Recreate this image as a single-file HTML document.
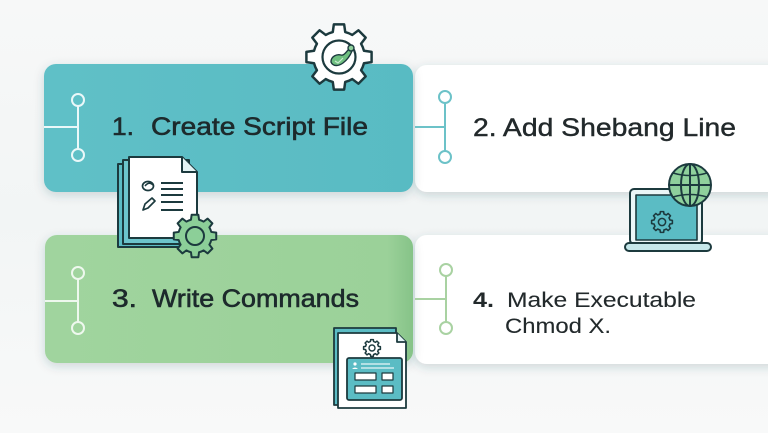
<!DOCTYPE html>
<html><head><meta charset="utf-8">
<style>
html,body{margin:0;padding:0;background:#f5f7f7;}
svg{display:block;}
text{font-family:"Liberation Sans",Arial,sans-serif;}
</style></head>
<body>
<svg width="768" height="433" viewBox="0 0 768 433" xmlns="http://www.w3.org/2000/svg">
<defs>
  <filter id="sh" x="-10%" y="-20%" width="120%" height="150%">
    <feDropShadow dx="0" dy="3" stdDeviation="5" flood-color="#1f4f55" flood-opacity="0.2"/>
  </filter>
  <linearGradient id="bg" x1="0" y1="0" x2="0" y2="1">
    <stop offset="0" stop-color="#f7f8f8"/>
    <stop offset="0.5" stop-color="#f2f5f5"/>
    <stop offset="1" stop-color="#f8f9f9"/>
  </linearGradient>
  <linearGradient id="teal" x1="0" y1="0" x2="1" y2="0">
    <stop offset="0" stop-color="#5fc0c7"/>
    <stop offset="1" stop-color="#59bbc3"/>
  </linearGradient>
  <linearGradient id="green" x1="0" y1="0" x2="1" y2="0">
    <stop offset="0" stop-color="#a0d49e"/>
    <stop offset="0.93" stop-color="#9bd199"/>
    <stop offset="1" stop-color="#86c388"/>
  </linearGradient>
  <path id="gear" d="M-0.1887 -0.7568 L-0.1564 -0.9877 L0.1564 -0.9877 L0.1887 -0.7568 A0.78 0.78 0 0 1 0.4017 -0.6686 L0.5878 -0.8090 L0.8090 -0.5878 L0.6686 -0.4017 A0.78 0.78 0 0 1 0.7568 -0.1887 L0.9877 -0.1564 L0.9877 0.1564 L0.7568 0.1887 A0.78 0.78 0 0 1 0.6686 0.4017 L0.8090 0.5878 L0.5878 0.8090 L0.4017 0.6686 A0.78 0.78 0 0 1 0.1887 0.7568 L0.1564 0.9877 L-0.1564 0.9877 L-0.1887 0.7568 A0.78 0.78 0 0 1 -0.4017 0.6686 L-0.5878 0.8090 L-0.8090 0.5878 L-0.6686 0.4017 A0.78 0.78 0 0 1 -0.7568 0.1887 L-0.9877 0.1564 L-0.9877 -0.1564 L-0.7568 -0.1887 A0.78 0.78 0 0 1 -0.6686 -0.4017 L-0.8090 -0.5878 L-0.5878 -0.8090 L-0.4017 -0.6686 A0.78 0.78 0 0 1 -0.1887 -0.7568 Z" stroke-linejoin="round"/>
</defs>

<rect x="0" y="0" width="768" height="433" fill="url(#bg)"/>

<!-- Cards -->
<rect x="415" y="65" width="370" height="127" rx="12" fill="#ffffff" filter="url(#sh)"/>
<rect x="415" y="235" width="370" height="129" rx="12" fill="#ffffff" filter="url(#sh)"/>
<rect x="44" y="64" width="369" height="128" rx="12" fill="url(#teal)" filter="url(#sh)"/>
<rect x="45" y="235" width="368" height="128" rx="12" fill="url(#green)" filter="url(#sh)"/>

<!-- Connectors card 1 -->
<g stroke="#eaf8f9" stroke-width="2" fill="none">
  <line x1="44" y1="127" x2="78" y2="127"/>
  <line x1="78" y1="106" x2="78" y2="149"/>
  <circle cx="78" cy="100" r="6"/>
  <circle cx="78" cy="155" r="6"/>
</g>
<!-- Connectors card 3 -->
<g stroke="#eef8ee" stroke-width="2" fill="none">
  <line x1="45" y1="301" x2="78" y2="301"/>
  <line x1="78" y1="279" x2="78" y2="322"/>
  <circle cx="78" cy="273" r="6"/>
  <circle cx="78" cy="328" r="6"/>
</g>
<!-- Connectors card 2 -->
<g stroke="#6cc2c8" stroke-width="2" fill="#fff">
  <line x1="415" y1="127" x2="445" y2="127"/>
  <line x1="445" y1="103" x2="445" y2="151"/>
  <circle cx="445" cy="97" r="6"/>
  <circle cx="445" cy="157" r="6"/>
</g>
<!-- Connectors card 4 -->
<g stroke="#a9d2a2" stroke-width="2" fill="#fff">
  <line x1="415" y1="299" x2="446" y2="299"/>
  <line x1="446" y1="276" x2="446" y2="322"/>
  <circle cx="446" cy="270" r="6"/>
  <circle cx="446" cy="328" r="6"/>
</g>

<!-- Texts -->
<g fill="#1d2a2c" stroke="#1d2a2c">
  <text x="112" y="135" font-size="25" stroke-width="0.6" textLength="22" lengthAdjust="spacingAndGlyphs">1.</text>
  <text x="151" y="135" font-size="25" stroke-width="0.6" textLength="217" lengthAdjust="spacingAndGlyphs">Create Script File</text>
  <text x="112" y="307" font-size="25" stroke-width="0.6" textLength="25" lengthAdjust="spacingAndGlyphs">3.</text>
  <text x="152" y="307" font-size="25" stroke-width="0.6" textLength="207" lengthAdjust="spacingAndGlyphs">Write Commands</text>
</g>
<g fill="#22292b" stroke="#22292b">
  <text x="473" y="136" font-size="25" stroke-width="0.4" textLength="263" lengthAdjust="spacingAndGlyphs">2. Add Shebang Line</text>
  <text x="473" y="307" font-size="21" font-weight="bold" stroke-width="0" textLength="21" lengthAdjust="spacingAndGlyphs">4.</text>
  <text x="507" y="307" font-size="21" stroke-width="0.1" textLength="189" lengthAdjust="spacingAndGlyphs">Make Executable</text>
  <text x="505" y="333" font-size="21" stroke-width="0.1" textLength="106" lengthAdjust="spacingAndGlyphs">Chmod X.</text>
</g>

<!-- Top gear icon -->
<use href="#gear" transform="translate(339,57) scale(33)" fill="#ffffff" stroke="#1c3a3e" stroke-width="0.075"/>
<circle cx="339" cy="57" r="16.5" fill="#ffffff" stroke="#1c3a3e" stroke-width="2.2"/>
<g stroke="#1c3a3e" stroke-width="1.4" stroke-linejoin="round">
  <path d="M331 62 C331 56 337 54 341 55 C344 56 346 52 349 49 L352 51 C350 56 347 60 343 63 C339 66 333 67 331 62 Z" fill="#6fbf80"/>
  <circle cx="351" cy="48" r="3" fill="#8fd09c"/>
  <path d="M335 61 L338 63 L343 58" fill="none" stroke="#c8ebcf" stroke-width="1.2"/>
</g>

<!-- Document icon 1 -->
<g stroke="#1c3a3e" stroke-width="2" stroke-linejoin="round">
  <rect x="118" y="164" width="64" height="83" fill="#5bbcc4"/>
  <rect x="123" y="160" width="66" height="84" fill="#6cc5cc"/>
  <path d="M129 157 H182 L197 172 V238 H129 Z" fill="#ffffff"/>
  <path d="M182 157 V172 H197" fill="#e3f3f4"/>
  <ellipse cx="148" cy="186" rx="5.5" ry="4.5" fill="none" stroke-width="1.7"/>
  <path d="M145 186 Q149 181 153 185" fill="none" stroke-width="1.5"/>
  <path d="M143 210 L145 204 L152 198 L155 201 L148 208 Z" fill="none" stroke-width="1.7"/>
  <g stroke-width="2">
    <line x1="161" y1="183" x2="183" y2="183"/>
    <line x1="161" y1="189" x2="183" y2="189"/>
    <line x1="161" y1="195" x2="183" y2="195"/>
    <line x1="161" y1="202" x2="183" y2="202"/>
    <line x1="161" y1="210" x2="183" y2="210"/>
  </g>
</g>
<use href="#gear" transform="translate(195,236) scale(21.5)" fill="#8ccf98" stroke="#1c3a3e" stroke-width="0.093"/>
<circle cx="195" cy="236" r="9" fill="#8ccf98" stroke="#1c3a3e" stroke-width="2"/>

<!-- Laptop icon -->
<g stroke="#1c3a3e" stroke-linejoin="round">
  <rect x="630" y="189" width="72" height="55" rx="4" fill="#eaf6f7" stroke-width="2"/>
  <rect x="636" y="195" width="61" height="45" fill="#5bbcc4" stroke-width="1.6"/>
  <rect x="625" y="243" width="86" height="8" rx="4" fill="#c5e7ea" stroke-width="2"/>
</g>
<use href="#gear" transform="translate(662,222) scale(10.5)" fill="#5bbcc4" stroke="#1c3a3e" stroke-width="0.15"/>
<circle cx="662" cy="222" r="3.6" fill="#5bbcc4" stroke="#1c3a3e" stroke-width="1.5"/>
<g stroke="#1c3a3e" stroke-width="2" fill="none">
  <circle cx="690" cy="185" r="21" fill="#8fd09c"/>
  <ellipse cx="690" cy="185" rx="9" ry="21"/>
  <line x1="690" y1="164" x2="690" y2="206"/>
  <line x1="669" y1="185" x2="711" y2="185"/>
  <path d="M673 173 Q690 178 707 173" stroke-width="1.6"/>
  <path d="M673 197 Q690 192 707 197" stroke-width="1.6"/>
</g>

<!-- Document icon 2 -->
<g stroke="#1c3a3e" stroke-width="1.8" stroke-linejoin="round">
  <rect x="334" y="328" width="62" height="77" fill="#5bbcc4"/>
  <path d="M338 333 H397 L406 342 V408 H338 Z" fill="#ffffff"/>
  <path d="M397 333 V342 H406" fill="#e3f3f4"/>
  <line x1="372" y1="356" x2="372" y2="359" stroke-width="1.5"/>
  <rect x="347" y="358" width="55" height="42" rx="2" fill="#5bbcc4"/>
  <circle cx="355" cy="364" r="1.6" fill="#fff" stroke="none"/>
  <path d="M352 369 Q355 366 358 369" fill="#fff" stroke="none"/>
  <line x1="361" y1="364" x2="390" y2="364" stroke="#e8f6f7" stroke-width="1.3"/>
  <line x1="361" y1="368" x2="394" y2="368" stroke="#e8f6f7" stroke-width="1.3"/>
  <g fill="#ffffff" stroke-width="1.2">
    <rect x="355" y="373" width="21" height="7"/>
    <rect x="382" y="373" width="11" height="7"/>
    <rect x="355" y="386" width="21" height="7"/>
    <rect x="382" y="386" width="11" height="7"/>
  </g>
</g>
<use href="#gear" transform="translate(372,348) scale(8.5)" fill="#ffffff" stroke="#1c3a3e" stroke-width="0.18"/>
<circle cx="372" cy="348" r="3" fill="#ffffff" stroke="#1c3a3e" stroke-width="1.4"/>
</svg>
</body></html>
